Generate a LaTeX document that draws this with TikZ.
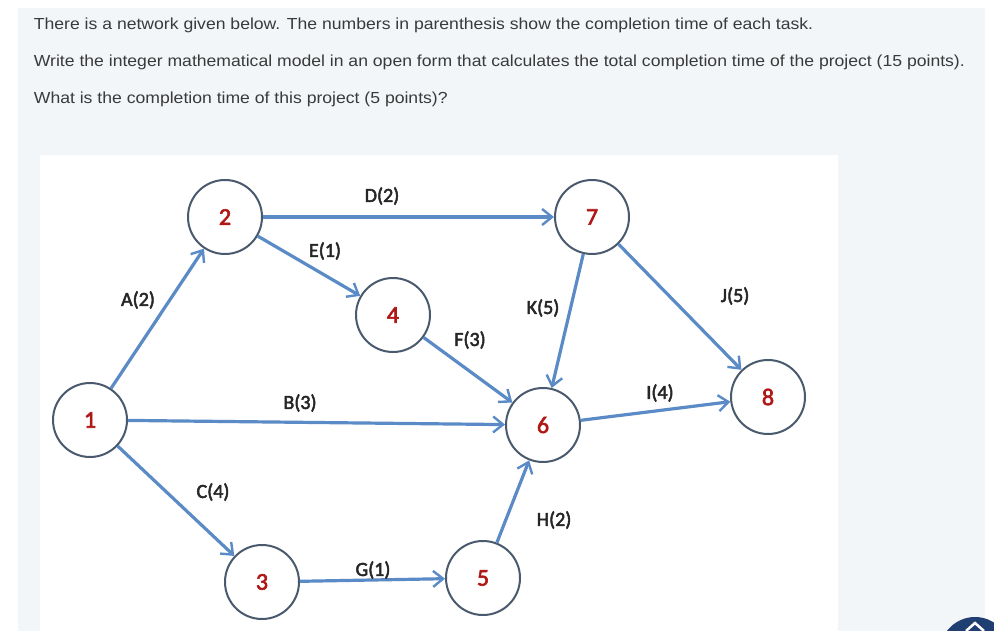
\documentclass[tikz,border=0pt]{standalone}
\usepackage{fontspec}
\setmainfont{Liberation Sans}
\newfontfamily\calfont{Carlito}[FakeBold=2.5]
\usetikzlibrary{arrows.meta}
\definecolor{panel}{HTML}{F3F6F9}
\definecolor{edge}{HTML}{5B8BC6}
\definecolor{ring}{HTML}{4A5A6E}
\definecolor{num}{HTML}{B01818}
\definecolor{txt}{HTML}{3A3A3A}
\definecolor{btn}{HTML}{1F3E72}
\begin{document}
\begin{tikzpicture}[x=1pt,y=-1pt,
  ev/.style={circle,draw=ring,line width=2pt,fill=white,minimum size=74pt,inner sep=0pt,font=\calfont\fontsize{24}{26}\selectfont,text=num},
  act/.style={draw=edge,line width=3.2pt,-{Straight Barb[length=10pt,width=16pt,line width=2.4pt]}},
  lab/.style={font=\calfont\fontsize{20}{22}\selectfont,text=black!85},
  q/.style={anchor=west,font=\fontsize{16}{18}\selectfont,text=txt,xscale=1.1}]
\useasboundingbox (0,0) rectangle (994,631);
\fill[white] (0,0) rectangle (994,631);
\fill[panel] (18,8) rectangle (985,640);
\fill[white] (40,155) rectangle (838,640);
\node[q] (t1) at (30,25) {There is a network given below. The numbers in parenthesis show the completion time of each task.};
\node[q] (t2) at (30,62) {Write the integer mathematical model in an open form that calculates the total completion time of the project (15 points).};
\node[q] (t3) at (30,99) {What is the completion time of this project (5 points)?};
\node[ev] (n1) at (90,420) {1};
\node[ev] (n2) at (225,217) {2};
\node[ev] (n7) at (592,217) {7};
\node[ev] (n4) at (393,315) {4};
\node[ev] (n6) at (543,425) {6};
\node[ev] (n8) at (768,397) {8};
\node[ev] (n3) at (262,582) {3};
\node[ev] (n5) at (483,578) {5};
\draw[act] (n1) -- (n2);
\draw[act] (n2) -- (n7);
\draw[act] (n2) -- (n4);
\draw[act] (n1) -- (n6);
\draw[act] (n4) -- (n6);
\draw[act] (n7) -- (n6);
\draw[act] (n7) -- (n8);
\draw[act] (n6) -- (n8);
\draw[act] (n1) -- (n3);
\draw[act] (n3) -- (n5);
\draw[act] (n5) -- (n6);
\node[lab] (lD) at (382,196) {D(2)};
\node[lab] (lE) at (325,251) {E(1)};
\node[lab] (lA) at (138,300) {A(2)};
\node[lab] (lK) at (543,308) {K(5)};
\node[lab] (lJ) at (735,296) {J(5)};
\node[lab] (lF) at (470,340) {F(3)};
\node[lab] (lB) at (300,403) {B(3)};
\node[lab] (lI) at (660,393) {I(4)};
\node[lab] (lC) at (213,492) {C(4)};
\node[lab] (lH) at (554,520) {H(2)};
\node[lab] (lG) at (373,570) {G(1)};
\fill[btn] (975,652) circle (35);
\draw[white,line width=2.5pt] (966,631) -- (975,623) -- (984,631);
\end{tikzpicture}
\end{document}
